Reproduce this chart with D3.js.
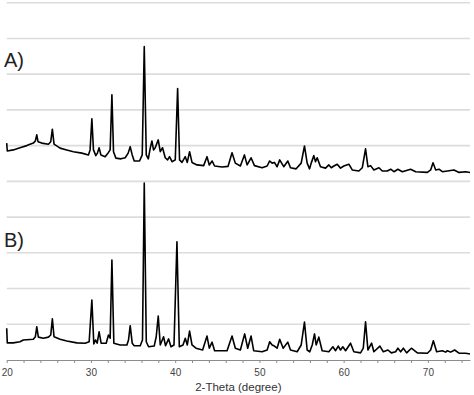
<!DOCTYPE html>
<html>
<head>
<meta charset="utf-8">
<script src="https://cdnjs.cloudflare.com/ajax/libs/d3/7.8.5/d3.min.js"></script>
<style>
  body { margin: 0; background: #fff; }
  svg { display: block; font-family: "Liberation Sans", Arial, sans-serif; }
</style>
</head>
<body>
<svg id="xrd" width="474" height="395"></svg>
<script>
// pattern A (top)
var thetaA = [20.0, 20.07, 20.78, 21.58, 22.38, 23.16, 23.40, 23.57, 23.72, 24.16, 24.95, 25.23, 25.42, 25.62, 26.34, 27.13, 27.92, 28.92, 29.70, 29.90,
  30.11, 30.30, 30.58, 30.77, 30.97, 31.18, 31.69, 32.08, 32.28, 32.49, 32.68, 32.96, 33.56, 34.07, 34.42, 34.66, 34.90, 35.14, 35.77, 36.09,
  36.33, 36.57, 36.81, 37.04, 37.24, 37.43, 37.63, 37.99, 38.23, 38.50, 38.82, 39.10, 39.33, 39.62, 40.01, 40.29, 40.52, 40.81, 41.20, 41.44,
  41.71, 42.00, 42.59, 43.38, 43.78, 44.05, 44.38, 44.68, 45.56, 46.28, 46.75, 47.14, 47.74, 48.22, 48.54, 49.01, 49.41, 50.32, 50.92, 51.22,
  51.51, 51.78, 52.10, 52.41, 52.89, 53.37, 53.69, 54.36, 54.96, 55.35, 55.67, 55.95, 56.15, 56.46, 56.66, 56.86, 57.25, 57.85, 58.24, 58.53,
  58.84, 59.24, 59.63, 60.02, 60.62, 61.02, 61.81, 62.21, 62.60, 62.88, 63.20, 63.59, 64.19, 64.59, 65.18, 65.58, 65.97, 66.44, 66.97, 67.95,
  68.55, 69.94, 70.33, 70.61, 70.93, 71.32, 71.72, 73.10, 73.70, 74.49, 75.0];
var intensityA = [607, 585, 588, 594, 600, 607, 613, 630, 611, 607, 604, 611, 646, 604, 593, 588, 583, 579, 574, 588,
  675, 588, 572, 579, 594, 574, 569, 581, 588, 742, 583, 565, 563, 566, 579, 597, 574, 557, 557, 574,
  877, 574, 563, 593, 613, 588, 594, 616, 583, 594, 566, 560, 569, 555, 560, 760, 560, 553, 569, 553,
  583, 553, 546, 544, 569, 546, 557, 543, 540, 542, 580, 551, 543, 574, 546, 566, 544, 538, 543, 557,
  551, 553, 541, 560, 541, 557, 538, 535, 551, 599, 551, 535, 551, 572, 555, 566, 541, 537, 546, 538,
  543, 548, 537, 543, 548, 532, 529, 538, 591, 541, 544, 532, 538, 529, 529, 534, 527, 534, 527, 534,
  527, 525, 532, 552, 532, 534, 527, 532, 525, 527, 525];

// pattern B (bottom)
var thetaB = [20.0, 20.07, 20.78, 21.58, 21.97, 23.16, 23.40, 23.57, 23.76, 24.35, 24.95, 25.23, 25.42, 25.62, 26.34, 27.13, 28.32, 29.31, 29.79, 30.11,
  30.34, 30.54, 30.74, 30.97, 31.21, 31.81, 32.08, 32.28, 32.49, 32.72, 33.47, 34.27, 34.46, 34.66, 34.90, 35.14, 35.85, 36.12, 36.33, 36.57,
  36.84, 37.51, 37.75, 37.99, 38.23, 38.62, 38.86, 39.22, 39.50, 39.86, 40.21, 40.49, 40.93, 41.20, 41.44, 41.71, 42.00, 42.47, 43.26, 43.78,
  44.05, 44.38, 44.68, 46.16, 46.75, 47.14, 47.74, 48.25, 48.61, 49.01, 49.32, 50.32, 50.92, 51.22, 51.51, 51.78, 52.10, 52.41, 52.82, 53.37,
  53.69, 54.48, 54.96, 55.35, 55.67, 55.98, 56.27, 56.54, 56.74, 57.05, 57.45, 58.24, 58.72, 59.04, 59.36, 59.63, 59.90, 60.23, 60.82, 61.21,
  62.01, 62.33, 62.60, 62.88, 63.32, 63.59, 64.30, 64.71, 65.26, 65.66, 66.17, 66.44, 66.77, 67.09, 67.48, 68.04, 68.75, 69.94, 70.33, 70.65,
  71.04, 71.72, 72.11, 72.31, 72.70, 73.18, 73.69, 74.49, 75.0];
var intensityB = [89, 48, 48, 51, 56, 58, 65, 93, 64, 61, 64, 70, 115, 65, 58, 53, 48, 47, 51, 168,
  45, 56, 47, 79, 47, 47, 70, 61, 280, 47, 42, 42, 56, 96, 47, 40, 40, 56, 495, 51,
  37, 39, 65, 123, 42, 65, 40, 59, 37, 42, 331, 37, 42, 61, 42, 81, 42, 33, 28, 67,
  33, 50, 26, 26, 67, 33, 28, 73, 33, 67, 26, 23, 28, 51, 42, 39, 33, 58, 33, 50,
  28, 23, 42, 106, 28, 23, 42, 73, 42, 64, 26, 23, 37, 26, 39, 28, 37, 26, 47, 23,
  20, 33, 107, 28, 47, 23, 39, 23, 28, 20, 23, 33, 23, 33, 20, 33, 20, 19, 28, 54,
  23, 26, 22, 26, 22, 28, 19, 19, 17];

var xTicks = d3.range(20, 75, 2);
var yGrid = [100, 200, 300, 400, 500, 600, 700, 800, 900, 1000];
var panelLabels = [{ text: "A)", value: 820 }, { text: "B)", value: 315 }];

var svg = d3.select("#xrd");

var x = d3.scaleLinear().domain([20, 75]).range([6.7, 470]);
var y = d3.scaleLinear().domain([0, 1000]).range([360, 2.7]);

// horizontal grid
svg.append("g")
  .selectAll("line")
  .data(yGrid)
  .enter().append("line")
  .attr("x1", x(20))
  .attr("x2", x(75))
  .attr("y1", d => y(d))
  .attr("y2", d => y(d))
  .attr("stroke", "#dcdcdc")
  .attr("stroke-width", 1.6);

// x axis
var xAxis = svg.append("g")
  .attr("transform", "translate(0," + y(0) + ")")
  .call(d3.axisBottom(x)
    .tickValues(xTicks)
    .tickSize(3)
    .tickSizeOuter(0)
    .tickFormat(d => d % 10 == 0 ? d : ""));
xAxis.select(".domain").attr("stroke", "#8c8c8c");
xAxis.selectAll(".tick line").attr("stroke", "#8c8c8c");
xAxis.selectAll(".tick text")
  .attr("fill", "#444")
  .attr("font-size", 10)
  .attr("dy", "0.75em")
  .attr("y", 8);

svg.append("text")
  .attr("x", (x(20) + x(75)) / 2)
  .attr("y", 391)
  .attr("text-anchor", "middle")
  .attr("font-size", 11.5)
  .attr("fill", "#333")
  .text("2-Theta (degree)");

var line = d3.line()
  .x(d => x(d[0]))
  .y(d => y(d[1]));

var seriesA = thetaA.map((t, i) => [t, intensityA[i]]);
var seriesB = thetaB.map((t, i) => [t, intensityB[i]]);

svg.selectAll("path.xrd")
  .data([seriesA, seriesB])
  .enter().append("path")
  .attr("class", "xrd")
  .attr("d", line)
  .attr("fill", "none")
  .attr("stroke", "#000")
  .attr("stroke-width", 1.6)
  .attr("stroke-linejoin", "round");

svg.selectAll("text.panel")
  .data(panelLabels)
  .enter().append("text")
  .attr("class", "panel")
  .attr("x", 4)
  .attr("y", d => y(d.value))
  .attr("font-size", 20)
  .attr("fill", "#222")
  .text(d => d.text);
</script>
</body>
</html>
